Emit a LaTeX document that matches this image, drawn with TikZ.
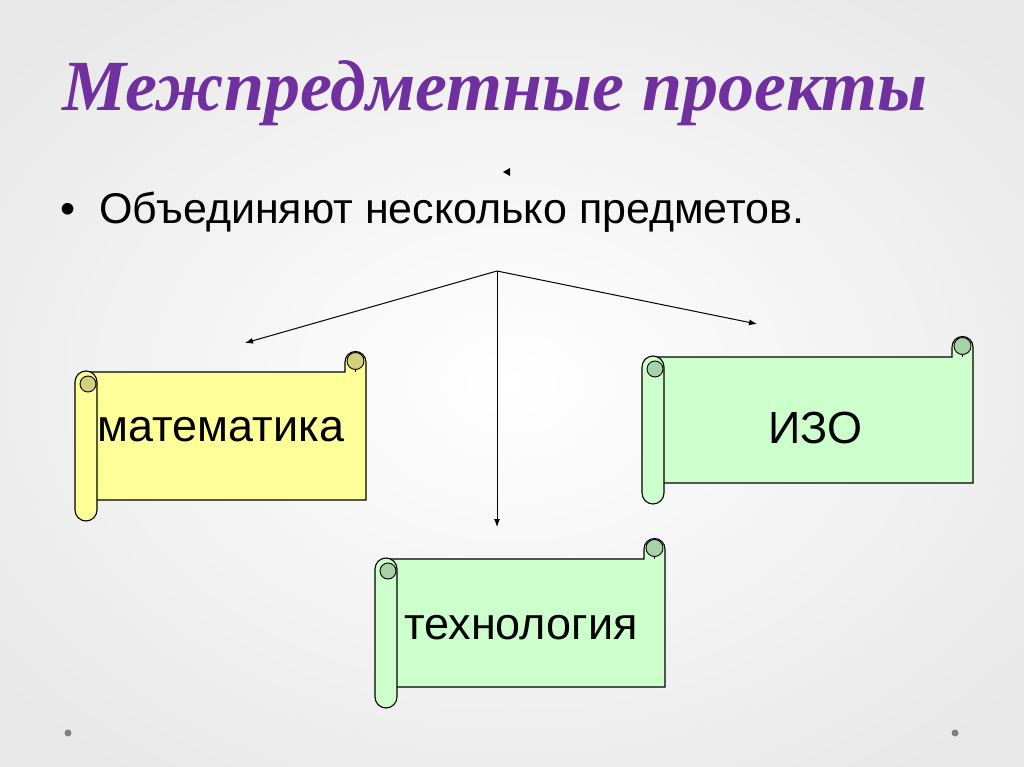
\documentclass[tikz,border=0pt]{standalone}
\usepackage{fontspec}
\setmainfont{Liberation Sans}
\newfontfamily\titlefont{Liberation Serif}
\usetikzlibrary{arrows.meta}
\definecolor{yel}{HTML}{FFFF99}
\definecolor{grn}{HTML}{CCFFCC}
\definecolor{ttl}{HTML}{7030A0}
\newcommand{\myscroll}[5]{%
 \filldraw[fill=#5,line width=1.1pt] (#1+11,#2) -- (#3-21,#2) -- (#3-21,#2-10) arc(180:360:10.5) -- (#3,#4) -- (#1+11,#4) -- cycle;
 \filldraw[fill=#5!70!black!60!#5,line width=0.9pt] (#3-10.5,#2-11) circle (8.5);
 \draw[line width=0.9pt] (#3-10.5,#2-2.5) -- (#3-10.5,#2);
 \filldraw[fill=#5,line width=1.1pt] (#1+22,#4+10) -- (#1+22,#2+10) arc(360:180:11) -- (#1,#4+10) arc(180:0:11) -- cycle;
 \filldraw[fill=#5!70!black!60!#5,line width=0.9pt] (#1+13,#2+12) circle (8);
}
\begin{document}
\begin{tikzpicture}[x=1pt,y=-1pt,
  conn/.style={-{Latex[length=8pt,width=6pt]},line width=1pt},
  lbl/.style={font=\fontsize{45}{50}\selectfont}]
\useasboundingbox (0,0) rectangle (1024,767);
\shade[inner color=white,outer color=gray!18] (-150,-100) rectangle (1174,867);
\fill[gray] (68,733) circle (3.5) (955,733) circle (3.5);
\node[font=\titlefont\bfseries\itshape\fontsize{72}{78}\selectfont,text=ttl] (title) at (495,93) {Межпредметные проекты};
\node[font=\fontsize{43}{48}\selectfont,anchor=west] (sub) at (57,212) {•\ \ Объединяют несколько предметов.};
\fill (503,172) -- (510,168) -- (510,176) -- cycle;
\coordinate (hub) at (497,271);
\myscroll{75}{372}{366}{500}{yel}
\myscroll{642}{357}{973}{483}{grn}
\myscroll{375}{559}{665}{687}{grn}
\node[lbl] (m) at (221,430) {математика};
\node[lbl] (i) at (815,428) {ИЗО};
\node[lbl] (t) at (521,628) {технология};
\coordinate (ma) at (245,343);
\coordinate (ia) at (757,324);
\coordinate (ta) at (497,527);
\draw[conn] (hub) -- (ma);
\draw[conn] (hub) -- (ia);
\draw[conn] (hub) -- (ta);
\end{tikzpicture}
\end{document}
